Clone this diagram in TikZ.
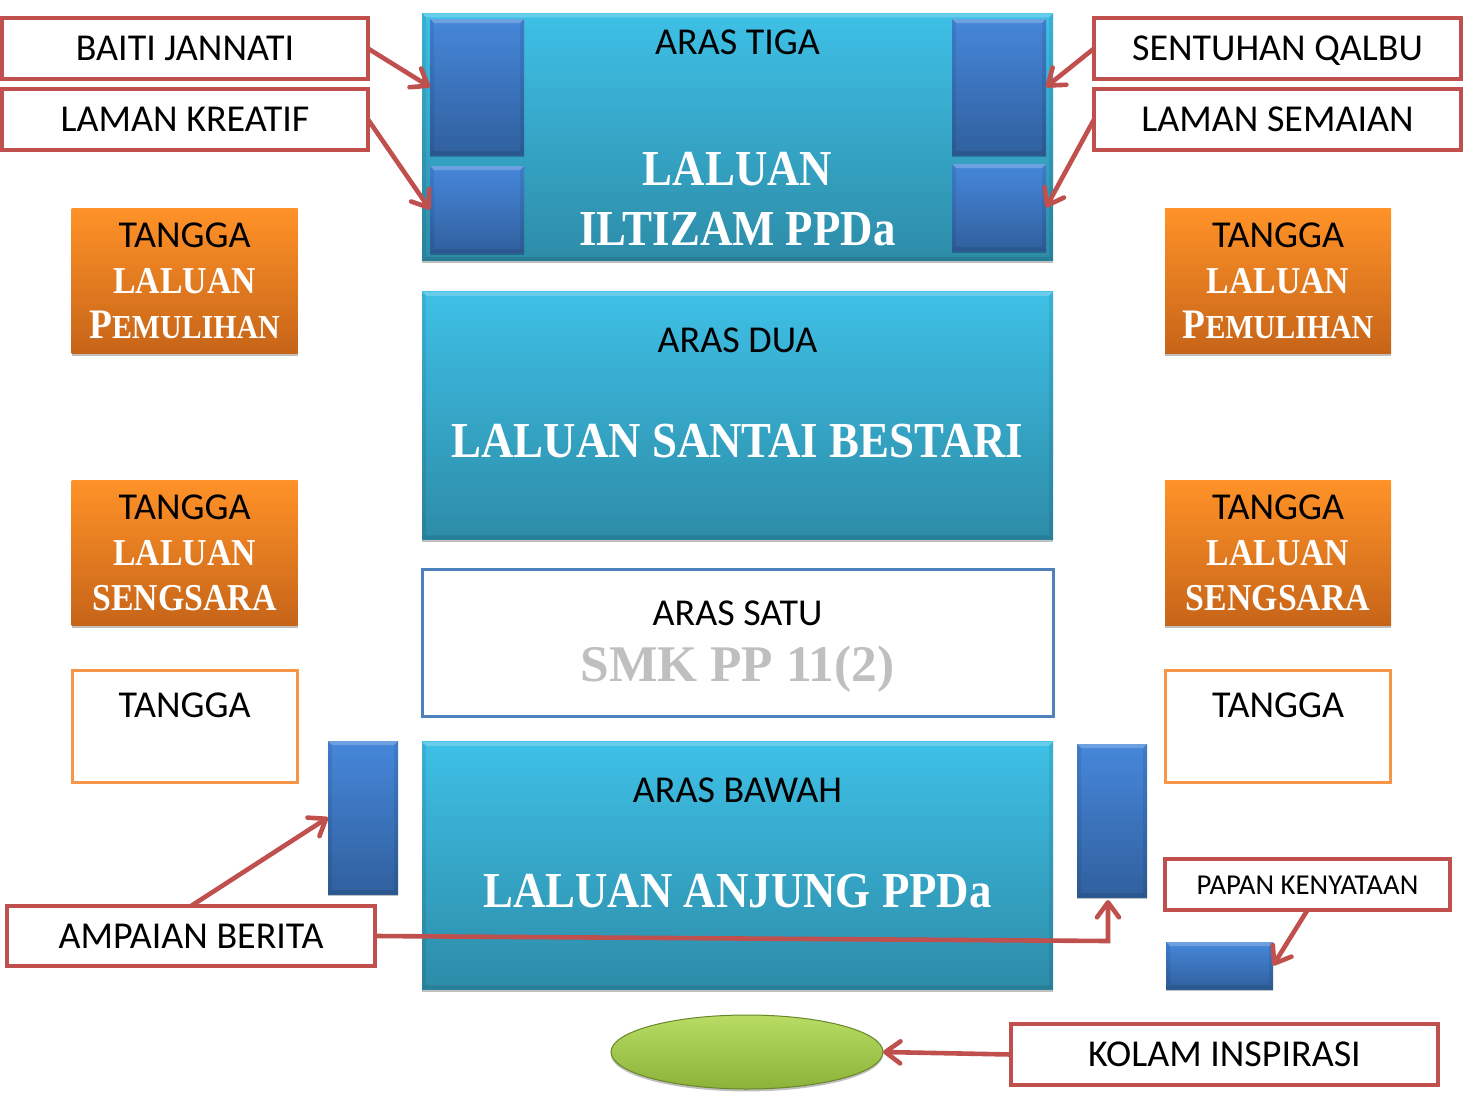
\documentclass[tikz,border=0pt]{standalone}
\usepackage{fontspec}
\usepackage{xcolor}
\usetikzlibrary{shapes.geometric, arrows.meta, positioning, shadows}
\setmainfont{Carlito}
\newfontfamily\titlefont{Liberation Serif}[FakeStretch=0.89]
\newfontfamily\widetitlefont{Liberation Serif}
\definecolor{calloutred}{RGB}{192, 80, 77}
\definecolor{frameblue}{RGB}{79, 129, 189}
\definecolor{frameorange}{RGB}{247, 150, 70}
\definecolor{tealtop}{RGB}{62, 192, 230}
\definecolor{tealbottom}{RGB}{45, 140, 168}
\definecolor{bluetop}{RGB}{70, 135, 218}
\definecolor{bluebottom}{RGB}{48, 96, 158}
\definecolor{orangetop}{RGB}{255, 146, 40}
\definecolor{orangebottom}{RGB}{198, 100, 24}
\definecolor{greentop}{RGB}{184, 220, 100}
\definecolor{greenmid}{RGB}{162, 202, 78}
\definecolor{greenbottom}{RGB}{140, 178, 58}
\definecolor{greenedge}{RGB}{104, 134, 42}
\newcommand{\stairword}[1]{{\titlefont\bfseries\color{white}#1}}
\newcommand{\smallcapword}[2]{{\fontsize{21}{23}\selectfont #1}{\fontsize{16.8}{23}\selectfont #2}}

\begin{document}
\begin{tikzpicture}[
    x=0.5pt, y=-0.5pt,
    node distance=5pt,
    bevel/.style={path picture={
        \fill[white, opacity=0.22] (path picture bounding box.north west) -- (path picture bounding box.north east)
            -- ([shift={(-#1,-#1)}]path picture bounding box.north east) -- ([shift={(#1,-#1)}]path picture bounding box.north west) -- cycle;
        \fill[black, opacity=0.1] (path picture bounding box.south west) -- (path picture bounding box.south east)
            -- ([shift={(-#1,#1)}]path picture bounding box.south east) -- ([shift={(#1,#1)}]path picture bounding box.south west) -- cycle;
        \fill[black, opacity=0.08] (path picture bounding box.north west) -- (path picture bounding box.south west)
            -- ([shift={(#1,#1)}]path picture bounding box.south west) -- ([shift={(#1,-#1)}]path picture bounding box.north west) -- cycle;
        \fill[black, opacity=0.08] (path picture bounding box.north east) -- (path picture bounding box.south east)
            -- ([shift={(-#1,#1)}]path picture bounding box.south east) -- ([shift={(-#1,-#1)}]path picture bounding box.north east) -- cycle;
    }},
    softshadow/.style={drop shadow={shadow xshift=0pt, shadow yshift=-1.2pt, opacity=0.25, fill=black}},
    panel/.style={rectangle, inner sep=0pt, outer sep=0pt, minimum width=315.5pt, minimum height=123.75pt, top color=tealtop, bottom color=tealbottom, softshadow, bevel=2pt},
    whitepanel/.style={rectangle, draw=frameblue, line width=1.5pt, fill=white, inner sep=0pt, outer sep=0pt, minimum width=315.5pt, minimum height=73.75pt},
    bluebox/.style={rectangle, inner sep=0pt, outer sep=0pt, top color=bluetop, bottom color=bluebottom, softshadow, bevel=2pt},
    orangebox/.style={rectangle, inner sep=0pt, outer sep=0pt, minimum width=113pt, minimum height=72.5pt, top color=orangetop, bottom color=orangebottom, softshadow, align=center, font=\fontsize{19}{22.75}\selectfont},
    frametangga/.style={rectangle, draw=frameorange, line width=1.5pt, fill=white, inner sep=0pt, outer sep=0pt, minimum width=112.5pt, minimum height=56pt, align=center, font=\fontsize{19}{23}\selectfont},
    callout/.style={rectangle, draw=calloutred, line width=2pt, fill=white, inner sep=0pt, outer sep=0pt, minimum width=183pt, minimum height=30.5pt, text height=12pt, text depth=0pt, font=\fontsize{19}{23}\selectfont},
    arastext/.style={font=\fontsize{19}{23}\selectfont, inner sep=0pt},
    titletext/.style={font=\titlefont\bfseries\fontsize{25.2}{30}\selectfont, text=white, align=center, inner sep=0pt},
    arrow/.style={calloutred, line width=2.3pt, -{Straight Barb[length=7.5pt, width=11pt, round]}}
]
    \useasboundingbox (0,0) rectangle (1463,1103);

    \node[panel] at (737.5,137) (tiga) {};
    \node[panel, below=15.5pt of tiga] (dua) {};
    \node[whitepanel, below=15pt of dua] (satu) {};
    \node[panel, below=12.5pt of satu] (bawah) {};

    \node[arastext, below=8pt of tiga.north] (tigalabel) {ARAS TIGA};
    \node[titletext, above=7pt of tiga.south] (tigatitle) {LALUAN\\ILTIZAM PPDa};
    \node[arastext, below=18pt of dua.north] (dualabel) {ARAS DUA};
    \node[titletext, above=40.5pt of dua.south] (duatitle) {LALUAN SANTAI BESTARI};
    \node[arastext, below=15.5pt of satu.north] (satulabel) {ARAS SATU};
    \node[titletext, text=black!25, font=\widetitlefont\bfseries\fontsize{25.7}{30}\selectfont, above=12pt of satu.south] (satutitle) {SMK PP 11(2)};
    \node[arastext, below=18pt of bawah.north] (bawahlabel) {ARAS BAWAH};
    \node[titletext, above=40.5pt of bawah.south] (bawahtitle) {LALUAN ANJUNG PPDa};

    \node[bluebox, minimum width=47pt, minimum height=68pt] at (477,87) (bluea) {};
    \node[bluebox, minimum width=47pt, minimum height=43.5pt] at (477,209.5) (blueb) {};
    \node[bluebox, minimum width=47pt, minimum height=68pt] at (999,87) (bluec) {};
    \node[bluebox, minimum width=47pt, minimum height=43.5pt] at (999,207.5) (blued) {};
    \node[bluebox, minimum width=35pt, minimum height=76.5pt] at (363,817.5) (sidel) {};
    \node[bluebox, minimum width=35pt, minimum height=76.5pt] at (1112,820.5) (sider) {};
    \node[bluebox, minimum width=53.5pt, minimum height=23.5pt] at (1219.5,965.5) (papanbox) {};

    \node[orangebox] at (184.5,281) (pemulihanl) {TANGGA\\\stairword{LALUAN}\\\stairword{\smallcapword{P}{EMULIHAN}}};
    \node[orangebox] at (1278,281) (pemulihanr) {TANGGA\\\stairword{LALUAN}\\\stairword{\smallcapword{P}{EMULIHAN}}};
    \node[orangebox, below=63.5pt of pemulihanl] (sengsaral) {TANGGA\\\stairword{LALUAN}\\\stairword{SENGSARA}};
    \node[orangebox, below=63.5pt of pemulihanr] (sengsarar) {TANGGA\\\stairword{LALUAN}\\\stairword{SENGSARA}};
    \node[frametangga, below=22.5pt of sengsaral] (tanggal) {TANGGA\\[-2pt]\mbox{}};
    \node[frametangga, below=22.5pt of sengsarar] (tanggar) {TANGGA\\[-2pt]\mbox{}};

    \node[callout] at (185,48.5) (baiti) {BAITI JANNATI};
    \node[callout, below=of baiti] (kreatif) {LAMAN KREATIF};
    \node[callout, minimum width=183.5pt] at (1277.5,48.5) (sentuhan) {SENTUHAN QALBU};
    \node[callout, minimum width=183.5pt, below=of sentuhan] (semaian) {LAMAN SEMAIAN};
    \node[callout, minimum width=184pt, minimum height=30pt] at (191,936) (ampaian) {AMPAIAN BERITA};
    \node[callout, minimum width=142.5pt, minimum height=25.5pt, text height=9.5pt, font=\fontsize{14.4}{17}\selectfont] at (1307.5,884.5) (papan) {PAPAN KENYATAAN};
    \node[callout, minimum width=213.5pt] at (1224.5,1054.5) (kolam) {KOLAM INSPIRASI};

    \node[ellipse, draw=greenedge, line width=0.5pt, inner sep=0pt, outer sep=0pt, minimum width=136pt, minimum height=37pt, top color=greentop, middle color=greenmid, bottom color=greenbottom, softshadow] at (747,1052) (pool) {};

    \coordinate (corner) at (1108,941);
    \coordinate (sidertip) at (1108,900);

    \draw[arrow] (baiti.east) -- (bluea.west);
    \draw[arrow] (kreatif.east) -- (blueb.west);
    \draw[arrow] (sentuhan.west) -- (bluec.east);
    \draw[arrow] (semaian.west) -- (blued.east);
    \draw[arrow] (ampaian.north) -- (sidel.west);
    \draw[arrow] (ampaian.east) -- (corner) -- (sidertip);
    \draw[arrow] (papan.south) -- (papanbox.east);
    \draw[arrow] (kolam.west) -- (pool.east);
\end{tikzpicture}
\end{document}
